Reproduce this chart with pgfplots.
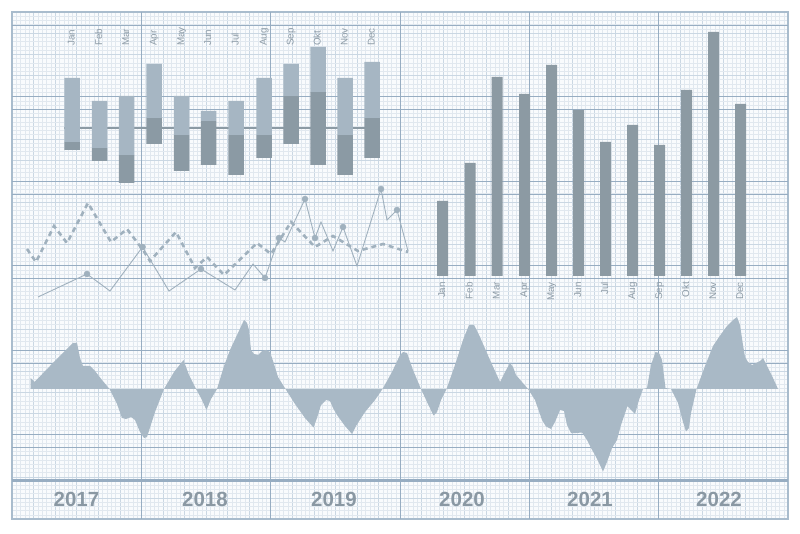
\documentclass[border=0pt]{standalone}
\usepackage{pgfplots}
\pgfplotsset{compat=1.18}
\usepackage{fontspec}
\setmainfont{Liberation Sans}
\definecolor{bgc}{HTML}{F9FBFD}
\definecolor{minc}{HTML}{E1E8EF}
\definecolor{medc}{HTML}{CAD7E3}
\definecolor{majc}{HTML}{97ADC2}
\definecolor{framec}{HTML}{A9BCCD}
\definecolor{lightbar}{HTML}{A6B6C3}
\definecolor{darkbar}{HTML}{8B9AA4}
\definecolor{rbar}{HTML}{8C9AA3}
\definecolor{linec}{HTML}{A0B1BE}
\definecolor{areac}{HTML}{A9B9C6}
\definecolor{txtc}{HTML}{8A98A3}
\definecolor{labc}{HTML}{8E9CA7}
\pgfplotsset{pix/.style={at={(0pt,0pt)}, anchor=south west, width=800pt, height=534pt,
  scale only axis, xmin=0, xmax=800, ymin=0, ymax=534, y dir=reverse, hide axis, clip=false}}
\tikzset{yl/.style={font=\fontsize{20.5}{24}\selectfont\bfseries, text=txtc, inner sep=0pt},
  ml/.style={rotate=90, anchor=mid west, inner sep=0pt, font=\fontsize{9.8}{11}\selectfont, text=labc},
  mr/.style={rotate=90, anchor=mid east, inner sep=0pt, font=\fontsize{9.8}{11}\selectfont, text=labc}}
\begin{document}
\begin{tikzpicture}[x=1pt,y=1pt]
\useasboundingbox (0,0) rectangle (800,534);
% ---- background grid ----
\begin{axis}[at={(12pt,15pt)}, anchor=south west, width=776pt, height=507pt, scale only axis,
  xmin=0,xmax=180,ymin=0,ymax=120,
  xtick distance=5, ytick distance=5, minor x tick num=4, minor y tick num=4,
  extra x ticks={30,60,90,120,150},
  extra y ticks={20,40,60,80,100,16.92,36.92,56.92,76.92,96.92,116.92},
  extra x tick style={grid=major, major grid style={draw=majc,line width=0.8pt}},
  extra y tick style={grid=major, major grid style={draw=majc,line width=0.8pt}},
  xticklabels={}, yticklabels={}, extra x tick labels={}, extra y tick labels={},
  major tick length=0pt, minor tick length=0pt,
  grid=both,
  major grid style={draw=medc,line width=0.45pt},
  minor grid style={draw=minc,line width=0.35pt},
  axis background/.style={fill=bgc},
  axis line style={draw=framec,line width=1.2pt},
]
\end{axis}
% ---- lines, area ----
\begin{axis}[pix]
\addplot[draw=majc, line width=3pt] coordinates {(12,480) (788,480)};
\addplot[fill=areac, draw=none] coordinates {
(30.5,389) (30.5,378) (34.5,382) (50,366) (65,351) (73,343) (77,343) (80,358) (83,366) (90,366)
(95,371) (102,380) (109.5,389) (117,404) (122,418) (126,419) (131,417) (135,420) (140,432) (144,438)
(147,437) (155,412) (164,389) (174,372) (183.5,360) (189,375) (196,389) (201,398) (206.5,410) (211,399)
(217,389) (224,366) (230,350) (238,333) (244,320) (247,323) (249,330) (251,350) (254,354) (258,355)
(262,351) (266,350) (270,352) (274,364) (278,377) (285.5,389) (295,404) (305,418) (313.5,427.5) (317,418)
(321,405) (326,400) (330,401) (333,408) (337,415) (345,426) (352,434) (356,426) (365,412) (375,400)
(382.5,389) (392,372) (400,355) (403,352) (407,353) (413,370) (421,389) (427,402) (433.5,415.5) (437,412)
(441,400) (446.5,389) (455,365) (463,340) (469,325) (474,325) (480,337) (490,360) (500,382) (505,372)
(510,363) (513,367) (516,375) (522,382) (528,389) (535,400) (542,420) (546,426.5) (551,429) (555,422)
(560,410) (564,411) (567,425) (571,433) (576,433) (582,432.5) (587,440) (591,448) (595,455) (600,465)
(603,471.5) (607,462) (612,448) (617,440) (621,425) (627.5,406) (631,410) (635,414) (639,400) (643,389)
(647,388) (651,365) (655.5,352) (659,353) (662,360) (665.5,388) (671,389) (678,403) (683,422) (686,431.5)
(689,428) (691,413) (696.5,389) (705,366) (713,346) (719,337) (727,326) (733,320) (737,317) (740,325)
(743,345) (745,357) (748,362) (752,365) (756,363) (760,361) (763,358) (768,368) (773,378) (778,389)};
\addplot[draw=darkbar, line width=1.2pt] coordinates {(64,128) (380,128)};
\addplot[linec, line width=2.6pt, dash pattern=on 5pt off 4pt] coordinates {
(27,249) (36,262) (54,226) (67,243) (88,203) (111,242) (127,229) (143,250) (150,261) (176,232)
(195,268) (207,257) (224,275) (257,243) (271,254) (291,222) (315,247) (333,236) (348,245) (358,251)
(383,244) (408,252)};
\addplot[linec, line width=0.9pt] coordinates {
(38,297) (87,274) (110,291) (142.5,247) (169,291) (201,269) (235,290) (253,264) (265,278) (279,238)
(285,242) (305,199) (315,238) (321,222) (333,251) (343,227) (357,266) (381,189) (387,220) (397,210)
(408,251)};
\addplot[only marks, mark=*, mark size=3pt, mark options={fill=linec, draw=linec}] coordinates {
(87,274) (142.5,247) (201,269) (265,278) (279,238) (305,199) (315,238) (343,227) (381,189) (397,210)};
\node[yl] at (axis cs:76.5,499) {2017};
\node[yl] at (axis cs:205,499) {2018};
\node[yl] at (axis cs:334,499) {2019};
\node[yl] at (axis cs:462,499) {2020};
\node[yl] at (axis cs:590,499) {2021};
\node[yl] at (axis cs:719,499) {2022};
\end{axis}
% ---- floating bars ----
\begin{axis}[pix, ybar stacked, bar width=15.5pt]
\addplot[draw=none, fill=none] coordinates {(72,78) (99.5,101) (126.5,96) (154,64) (181.5,96) (208.5,111)
 (236,101) (264,78) (291,64) (318,47) (345,78) (372,62)};
\addplot[fill=lightbar, draw=none] coordinates {(72,64) (99.5,47) (126.5,59) (154,54) (181.5,39) (208.5,10)
 (236,34) (264,57) (291,32) (318,45) (345,57) (372,56)};
\addplot[fill=darkbar, draw=none] coordinates {(72,8) (99.5,13) (126.5,28) (154,26) (181.5,36) (208.5,44)
 (236,40) (264,23) (291,48) (318,73) (345,40) (372,40)};
\node[ml] at (axis cs:72,46) {Jan};
\node[ml] at (axis cs:99.5,46) {Feb};
\node[ml] at (axis cs:126.5,46) {Mar};
\node[ml] at (axis cs:154,46) {Apr};
\node[ml] at (axis cs:181.5,46) {May};
\node[ml] at (axis cs:208.5,46) {Jun};
\node[ml] at (axis cs:236,46) {Jul};
\node[ml] at (axis cs:264,46) {Aug};
\node[ml] at (axis cs:291,46) {Sep};
\node[ml] at (axis cs:318,46) {Okt};
\node[ml] at (axis cs:345,46) {Nov};
\node[ml] at (axis cs:372,46) {Dec};
\end{axis}
% ---- right bars ----
\begin{axis}[pix, ybar stacked, bar width=11pt]
\addplot[draw=none, fill=none] coordinates {(442.5,201) (470,163) (497,77) (524.5,94) (551.5,65) (578.5,110)
 (605.5,142) (632.5,125) (659.5,145) (686.5,90) (713.5,32) (740.5,104)};
\addplot[fill=rbar, draw=none] coordinates {(442.5,75) (470,113) (497,199) (524.5,182) (551.5,211) (578.5,166)
 (605.5,134) (632.5,151) (659.5,131) (686.5,186) (713.5,244) (740.5,172)};
\node[mr] at (axis cs:442.5,282) {Jan};
\node[mr] at (axis cs:470,282) {Feb};
\node[mr] at (axis cs:497,282) {Mar};
\node[mr] at (axis cs:524.5,282) {Apr};
\node[mr] at (axis cs:551.5,282) {May};
\node[mr] at (axis cs:578.5,282) {Jun};
\node[mr] at (axis cs:605.5,282) {Jul};
\node[mr] at (axis cs:632.5,282) {Aug};
\node[mr] at (axis cs:659.5,282) {Sep};
\node[mr] at (axis cs:686.5,282) {Okt};
\node[mr] at (axis cs:713.5,282) {Nov};
\node[mr] at (axis cs:740.5,282) {Dec};
\end{axis}
\end{tikzpicture}
\end{document}
